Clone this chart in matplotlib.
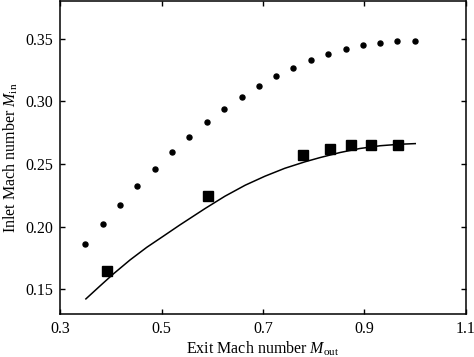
import matplotlib
matplotlib.use("Agg")
import matplotlib.pyplot as plt

# dotted series (circles)
dot_x = [0.350, 0.384, 0.418, 0.452, 0.487, 0.521, 0.555, 0.589, 0.623, 0.658,
         0.692, 0.726, 0.760, 0.795, 0.829, 0.863, 0.897, 0.931, 0.965, 1.000]
dot_y = [0.1864, 0.2020, 0.2174, 0.2323, 0.2461, 0.2592, 0.2716, 0.2833, 0.2939, 0.3035,
         0.3122, 0.3200, 0.3269, 0.3327, 0.3377, 0.3415, 0.3447, 0.3468, 0.3481, 0.3484]

# squares
sq_x = [0.393, 0.592, 0.779, 0.832, 0.873, 0.913, 0.967]
sq_y = [0.1648, 0.2246, 0.2576, 0.2618, 0.2650, 0.2650, 0.2650]

# solid curve
line_x = [0.351, 0.379, 0.405, 0.438, 0.471, 0.504, 0.536, 0.586, 0.625, 0.665,
          0.704, 0.743, 0.783, 0.812, 0.852, 0.891, 0.931, 0.970, 1.000]
line_y = [0.1423, 0.1527, 0.1622, 0.1734, 0.1835, 0.1925, 0.2013, 0.2145, 0.2243, 0.2331,
          0.2403, 0.2466, 0.2518, 0.2551, 0.2592, 0.2624, 0.2646, 0.2658, 0.2663]

x_ticks = [0.3, 0.5, 0.7, 0.9, 1.1]
x_tick_labels = ["0.3", "0.5", "0.7", "0.9", "1.1"]
y_ticks = [0.15, 0.20, 0.25, 0.30, 0.35]
y_tick_labels = ["0.15", "0.20", "0.25", "0.30", "0.35"]

plt.rcParams['font.family'] = ['Liberation Serif', 'DejaVu Serif']
plt.rcParams['mathtext.fontset'] = 'custom'
plt.rcParams['mathtext.rm'] = 'Liberation Serif'
plt.rcParams['mathtext.it'] = 'Liberation Serif:italic'

fig = plt.figure(figsize=(4.74, 3.57), dpi=100)
ax = fig.add_axes([0.1266, 0.1196, 0.8565, 0.877])

ax.plot(line_x, line_y, color='black', lw=1.1)
ax.plot(dot_x, dot_y, 'o', color='black', ms=3.6, ls='none')
ax.plot(sq_x, sq_y, 's', color='black', ms=6.5, ls='none')

ax.set_xlim(0.3, 1.1)
ax.set_ylim(0.13, 0.38)
ax.set_xticks(x_ticks)
ax.set_xticklabels(x_tick_labels)
ax.set_yticks(y_ticks)
ax.set_yticklabels(y_tick_labels)
ax.tick_params(direction='in', top=True, right=True, length=3.5, width=1.0,
               labelsize=11.5, pad=5)
for s in ax.spines.values():
    s.set_linewidth(1.1)

ax.set_xlabel(r'Exit Mach number $M_{\mathrm{out}}$', fontsize=11.5, labelpad=2)
ax.set_ylabel(r'Inlet Mach number $M_{\mathrm{in}}$', fontsize=11.5, labelpad=4)

fig.savefig('out.png', dpi=100)
